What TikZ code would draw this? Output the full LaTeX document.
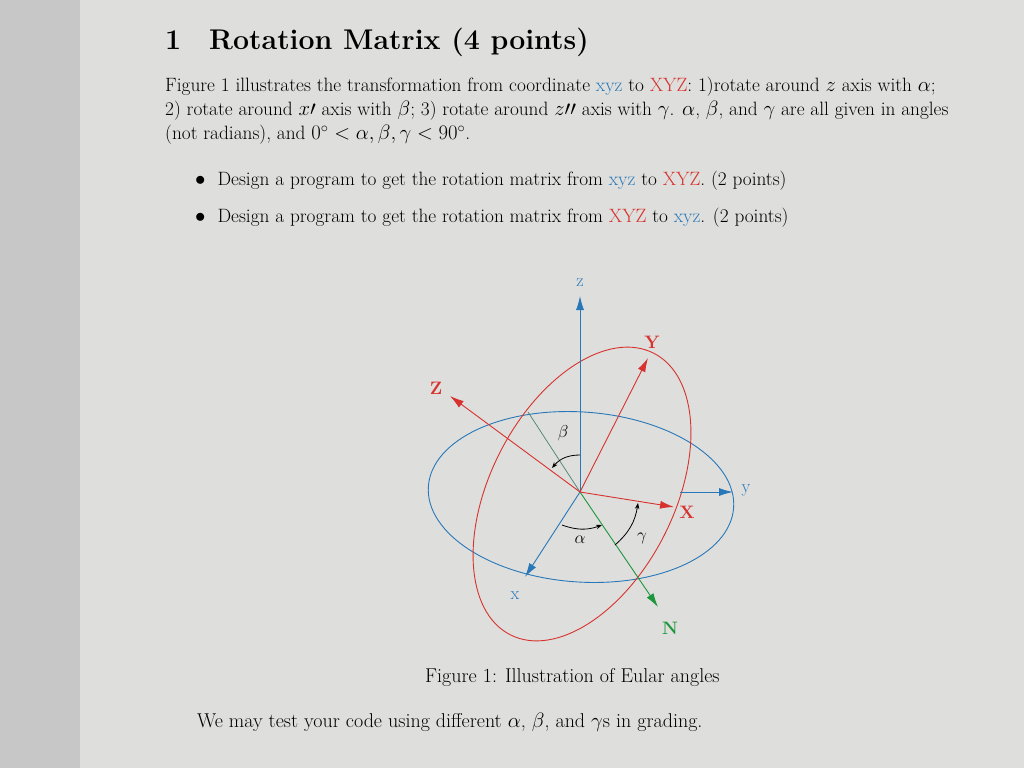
\documentclass[tikz,border=0pt]{standalone}
\usetikzlibrary{arrows.meta}
\definecolor{bl}{RGB}{40,120,185}
\definecolor{rd}{RGB}{215,50,45}
\definecolor{gn}{RGB}{30,150,60}
\definecolor{tl}{RGB}{70,130,110}
\definecolor{pg}{RGB}{222,222,220}
\begin{document}
\begin{tikzpicture}[x=1pt,y=-1pt,
  txt/.style={anchor=west,inner sep=0,font=\fontsize{19.3}{22}\selectfont},
  lab/.style={font=\fontsize{18}{20}\selectfont,inner sep=1pt},
  ax/.style={-{Latex[length=14pt,width=8pt]},line width=0.9pt},
  arc/.style={-{Stealth[length=6pt]},line width=0.8pt}]
\fill[pg] (0,0) rectangle (1024,768);
\fill[black!22] (0,0) rectangle (80,768);
\node[anchor=west,inner sep=0,font=\fontsize{28.5}{32}\selectfont\bfseries] (title) at (165,42) {1\hspace{28pt}Rotation Matrix (4 points)};
\node[txt] (l1) at (165,87) {Figure 1 illustrates the transformation from coordinate \textcolor{bl}{xyz} to \textcolor{rd}{XYZ}: 1)rotate around $z$ axis with $\alpha$;};
\node[txt] (l2) at (165,111) {2) rotate around $x\prime$ axis with $\beta$; 3) rotate around $z\prime\prime$ axis with $\gamma$. $\alpha$, $\beta$, and $\gamma$ are all given in angles};
\node[txt] (l3) at (165,135) {(not radians), and $0^\circ<\alpha,\beta,\gamma<90^\circ$.};
\node[txt] (b1) at (195,181) {$\bullet$\hspace{12pt}Design a program to get the rotation matrix from \textcolor{bl}{xyz} to \textcolor{rd}{XYZ}. (2 points)};
\node[txt] (b2) at (195,218) {$\bullet$\hspace{12pt}Design a program to get the rotation matrix from \textcolor{rd}{XYZ} to \textcolor{bl}{xyz}. (2 points)};
% diagram
\coordinate (O) at (580,492);
\draw[bl,line width=0.9pt,rotate around={-4:(581,497)}] (581,497) ellipse (153 and 85);
\draw[rd,line width=0.9pt,rotate around={-27:(582,494)}] (582,494) ellipse (92 and 158);
\coordinate (P) at (528,412);
\node[lab,text=gn,font=\fontsize{18}{20}\selectfont\bfseries] (N) at (670,628) {N};
\coordinate (Ne) at (658,607);
\draw[tl,line width=0.7pt] (P) -- (O);
\draw[ax,gn] (O) -- (Ne);
\node[lab,text=bl] (z) at (580,283) {z};
\draw[ax,bl] (O) -- (580,296) coordinate (ze);
\node[lab,text=bl] (x) at (515,596) {x};
\draw[ax,bl] (O) -- (525,577) coordinate (xe);
\node[lab,text=bl] (y) at (746,490) {y};
\draw[ax,bl] (680,492) coordinate (ys) -- (733,492) coordinate (ye);
\node[lab,text=rd,font=\fontsize{18}{20}\selectfont\bfseries] (Z) at (436,388) {Z};
\draw[ax,rd] (O) -- (450,396) coordinate (Ze);
\node[lab,text=rd,font=\fontsize{18}{20}\selectfont\bfseries] (Y) at (652,342) {Y};
\draw[ax,rd] (O) -- (648,358) coordinate (Ye);
\node[lab,text=rd,font=\fontsize{18}{20}\selectfont\bfseries] (X) at (687,512) {X};
\draw[ax,rd] (O) -- (674,507) coordinate (Xe);
\draw[arc] (580,455) to[bend right=25] (552,468);
\draw[arc] (562,525) to[bend right=20] (602,525);
\draw[arc] (615,545) to[bend right=20] (638,503);
\node[lab] (be) at (563,433) {$\beta$};
\node[lab] (al) at (580,540) {$\alpha$};
\node[lab] (ga) at (642,538) {$\gamma$};
\node[txt,font=\fontsize{20}{22}\selectfont] (cap) at (425,678) {Figure 1: Illustration of Eular angles};
\node[txt,font=\fontsize{20}{22}\selectfont] (last) at (197,722) {We may test your code using different $\alpha$, $\beta$, and $\gamma$s in grading.};
\end{tikzpicture}
\end{document}
